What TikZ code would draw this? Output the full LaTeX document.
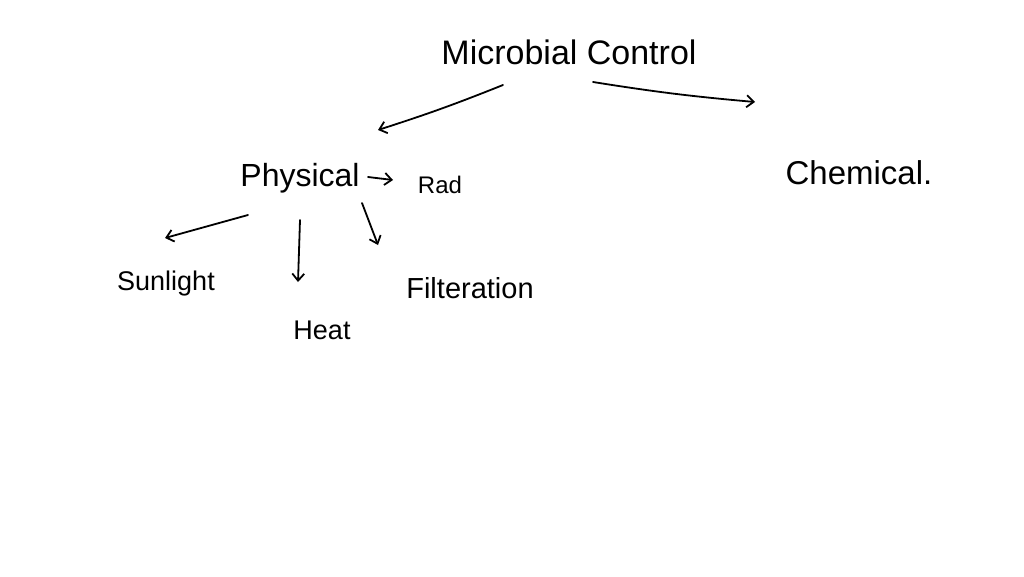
\documentclass[tikz,border=0pt]{standalone}
\usepackage{fontspec}
\setmainfont{Liberation Sans}
\usetikzlibrary{arrows.meta}
\begin{document}
\begin{tikzpicture}[x=1pt,y=-1pt,
  lbl/.style={inner sep=0pt,anchor=center},
  arr/.style={-{Straight Barb[length=7pt,width=12pt]},line width=1.8pt,line cap=round}]
\useasboundingbox (0,0) rectangle (1024,576);
\fill[white] (0,0) rectangle (1024,576);
\node[lbl,font=\fontsize{34}{36}\selectfont] (mc) at (569,52) {Microbial Control};
\node[lbl,font=\fontsize{32}{34}\selectfont] (ph) at (300,178) {Physical};
\node[lbl,font=\fontsize{24}{26}\selectfont] (rad) at (440,185) {Rad};
\node[lbl,font=\fontsize{33}{35}\selectfont] (ch) at (859,173) {Chemical.};
\node[lbl,font=\fontsize{27}{29}\selectfont] (sun) at (166,284) {Sunlight};
\node[lbl,font=\fontsize{27}{29}\selectfont] (heat) at (322,330) {Heat};
\node[lbl,font=\fontsize{29}{31}\selectfont] (fil) at (470,288) {Filteration};
\coordinate (a1) at (503,85); \coordinate (a2) at (378,130);
\coordinate (b1) at (593,82); \coordinate (b2) at (755,102);
\coordinate (c1) at (368,177); \coordinate (c2) at (393,180);
\coordinate (d1) at (248,215); \coordinate (d2) at (165,238);
\coordinate (e1) at (300,220); \coordinate (e2) at (298,282);
\coordinate (f1) at (362,203); \coordinate (f2) at (378,245);
\draw[arr] (a1) to[bend left=2] (a2);
\draw[arr] (b1) to[bend right=2] (b2);
\draw[arr] (c1) -- (c2);
\draw[arr] (d1) -- (d2);
\draw[arr] (e1) -- (e2);
\draw[arr] (f1) -- (f2);
\end{tikzpicture}
\end{document}
